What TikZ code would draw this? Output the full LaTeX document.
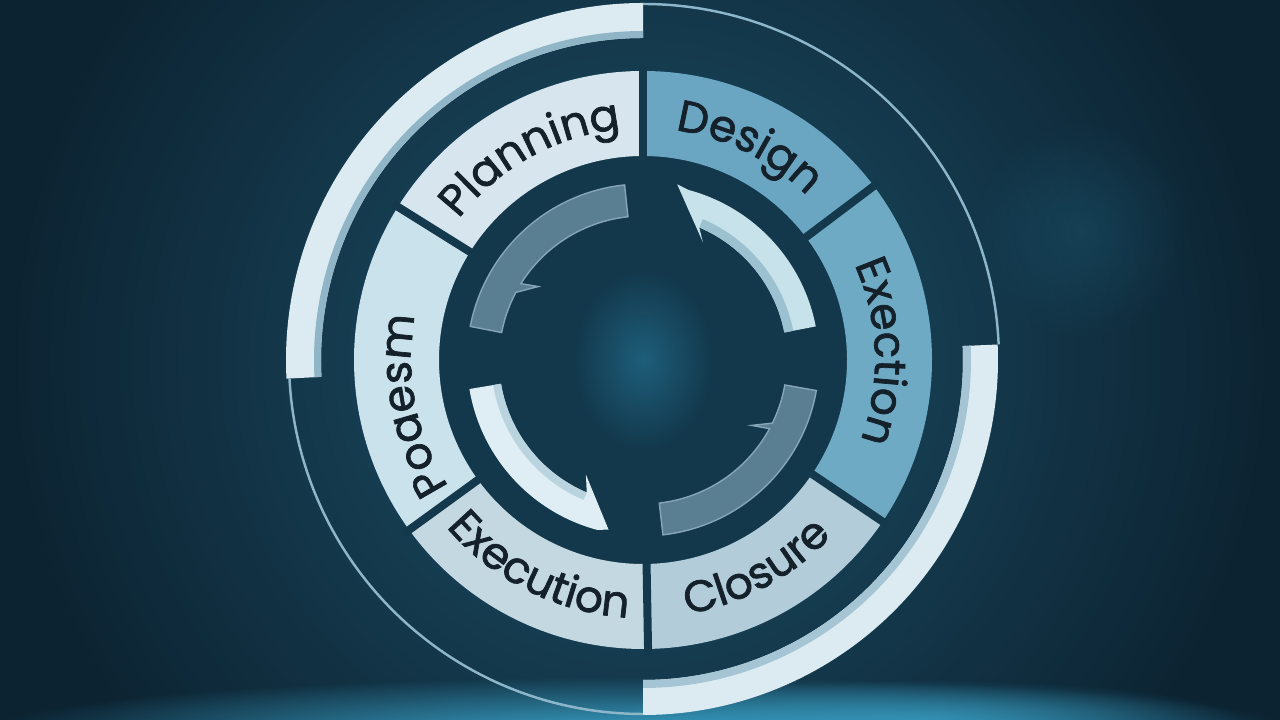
\documentclass[tikz,border=0pt]{standalone}
\usepackage{fontspec}
\setmainfont{Poppins}
\newfontfamily\segfont{Poppins}[FakeBold=1.6]
\usetikzlibrary{decorations.text}
\usetikzlibrary{fadings}
\definecolor{bgdark}{HTML}{0C2331}
\definecolor{bgmid}{HTML}{1D5069}
\definecolor{glowcyan}{HTML}{2C8DB3}
\definecolor{glowbright}{HTML}{3AA2C8}
\definecolor{hubdark}{HTML}{13384C}
\definecolor{gapcol}{HTML}{15394C}
\definecolor{planningcol}{HTML}{D7E6EE}
\definecolor{poaesncol}{HTML}{C9E2EC}
\definecolor{execbotcol}{HTML}{C4D8E2}
\definecolor{closurecol}{HTML}{B2CCD9}
\definecolor{execrightcol}{HTML}{6FAAC5}
\definecolor{designcol}{HTML}{6AA5C2}
\definecolor{ringlight}{HTML}{DCEBF1}
\definecolor{ringshade}{HTML}{8FB5C7}
\definecolor{ringthin}{HTML}{8DB6CA}
\definecolor{arrgray}{HTML}{5A7F92}
\definecolor{arrgrayedge}{HTML}{86A6B7}
\definecolor{arrlight}{HTML}{C8E2EC}
\definecolor{arrlightshade}{HTML}{9CC1D1}
\definecolor{inkdark}{HTML}{14212A}
\tikzfading[name=softglow, inner color=transparent!0, outer color=transparent!100]
\newcommand{\labelfont}{\segfont\fontsize{12.5}{14}\selectfont}
\tikzstyle{seglabel}=[decorate,decoration={text along path,text align=center,text color=inkdark}]
\tikzstyle{gap}=[draw=gapcol,line width=0.08cm]
\tikzstyle{ringline}=[draw=ringthin,line width=0.7pt]
\tikzstyle{grayarrow}=[fill=arrgray,draw=arrgrayedge,line width=0.4pt]
\tikzstyle{lightarrow}=[fill=arrlight]

\begin{document}
\begin{tikzpicture}

	% Background
	\useasboundingbox (-6.43,-3.6) rectangle (6.37,3.6);
	\fill[bgdark] (-6.43,-3.6) rectangle (6.37,3.6);
	\shade[inner color=bgmid, outer color=bgdark] (-6.43,-6.4) rectangle (6.37,6.4);
	\fill[glowbright, path fading=softglow, opacity=1] (0,-3.72) ellipse (6.6 and 0.55);
	\fill[glowbright, path fading=softglow, opacity=0.7] (2.8,-3.6) ellipse (3.2 and 0.4);
	\fill[glowcyan, path fading=softglow, opacity=0.18] (4.4,1.3) circle (1.1);
	\coordinate (hub) at (0,0);

	% Segments
	\fill[hubdark] (hub) circle (2.06);
	\fill[glowcyan, path fading=softglow, opacity=0.45] (hub) ellipse (0.7 and 0.9);
	\fill[planningcol] (90:2.89) arc[start angle=90, end angle=148, radius=2.89] -- (148:2.04) arc[start angle=148, end angle=90, radius=2.04] -- cycle;
	\fill[poaesncol] (148:2.89) arc[start angle=148, end angle=216, radius=2.89] -- (216:2.04) arc[start angle=216, end angle=148, radius=2.04] -- cycle;
	\fill[execbotcol] (216:2.89) arc[start angle=216, end angle=271, radius=2.89] -- (271:2.04) arc[start angle=271, end angle=216, radius=2.04] -- cycle;
	\fill[closurecol] (271:2.89) arc[start angle=271, end angle=326, radius=2.89] -- (326:2.04) arc[start angle=326, end angle=271, radius=2.04] -- cycle;
	\fill[execrightcol] (-34:2.89) arc[start angle=-34, end angle=37, radius=2.89] -- (37:2.04) arc[start angle=37, end angle=-34, radius=2.04] -- cycle;
	\fill[designcol] (37:2.89) arc[start angle=37, end angle=90, radius=2.89] -- (90:2.04) arc[start angle=90, end angle=37, radius=2.04] -- cycle;
	\draw[gap] (90:2.0) -- (90:2.95);
	\draw[gap] (148:2.0) -- (148:2.95);
	\draw[gap] (216:2.0) -- (216:2.95);
	\draw[gap] (271:2.0) -- (271:2.95);
	\draw[gap] (326:2.0) -- (326:2.95);
	\draw[gap] (37:2.0) -- (37:2.95);

	% Labels
	\path[seglabel, decoration={text={|\labelfont|Planning}}] (148:2.32) arc[start angle=148, end angle=90, radius=2.32];
	\path[seglabel, decoration={text={|\labelfont|Design}}] (90:2.32) arc[start angle=90, end angle=37, radius=2.32];
	\path[seglabel, decoration={text={|\labelfont|Exection}}] (37:2.32) arc[start angle=37, end angle=-33, radius=2.32];
	\path[seglabel, decoration={text={|\labelfont|Closure}}] (271:2.58) arc[start angle=271, end angle=326, radius=2.58];
	\path[seglabel, decoration={text={|\labelfont|Execution}}] (216:2.58) arc[start angle=216, end angle=271, radius=2.58];
	\path[seglabel, decoration={text={|\labelfont|Poaesm}}] (225:2.32) arc[start angle=225, end angle=157, radius=2.32];

	% Outer ring
	\fill[ringlight] (90:3.57) arc[start angle=90, end angle=183, radius=3.57] -- (183:3.22) arc[start angle=183, end angle=90, radius=3.22] -- cycle;
	\fill[ringshade] (90:3.29) arc[start angle=90, end angle=183, radius=3.29] -- (183:3.22) arc[start angle=183, end angle=90, radius=3.22] -- cycle;
	\fill[ringlight] (-90:3.55) arc[start angle=-90, end angle=2.5, radius=3.55] -- (2.5:3.2) arc[start angle=2.5, end angle=-90, radius=3.2] -- cycle;
	\fill[ringshade!70!ringlight] (-90:3.28) arc[start angle=-90, end angle=2.5, radius=3.28] -- (2.5:3.2) arc[start angle=2.5, end angle=-90, radius=3.2] -- cycle;
	\draw[ringline] (183:3.54) arc[start angle=183, end angle=270, radius=3.54];
	\draw[ringline] (2.5:3.56) arc[start angle=2.5, end angle=90, radius=3.56];

	% Inner arrows
	\fill[grayarrow] (96:1.76) arc[start angle=96, end angle=169, radius=1.76] -- (169:1.44) arc[start angle=169, end angle=152, radius=1.44] -- (145:1.28) -- (148:1.44) arc[start angle=148, end angle=96, radius=1.44] -- cycle;
	\fill[grayarrow] (276.5:1.76) arc[start angle=276.5, end angle=350, radius=1.76] -- (350:1.44) arc[start angle=350, end angle=334, radius=1.44] -- (329:1.27) -- (331.5:1.44) arc[start angle=331.5, end angle=276.5, radius=1.44] -- cycle;
	\fill[lightarrow] (11:1.76) arc[start angle=11, end angle=75, radius=1.76] -- (79:1.79) -- (63:1.32) -- (67:1.44) arc[start angle=67, end angle=11, radius=1.44] -- cycle;
	\fill[arrlightshade] (11:1.44) arc[start angle=11, end angle=67, radius=1.44] -- (67:1.53) arc[start angle=67, end angle=11, radius=1.53] -- cycle;
	\fill[lightarrow, fill=arrlight!60!white] (189.5:1.76) arc[start angle=189.5, end angle=255, radius=1.76] -- (258.5:1.73) -- (243.5:1.28) -- (247:1.44) arc[start angle=247, end angle=189.5, radius=1.44] -- cycle;
	\fill[arrlightshade!70!white] (189.5:1.44) arc[start angle=189.5, end angle=247, radius=1.44] -- (247:1.52) arc[start angle=247, end angle=189.5, radius=1.52] -- cycle;

\end{tikzpicture}
\end{document}
